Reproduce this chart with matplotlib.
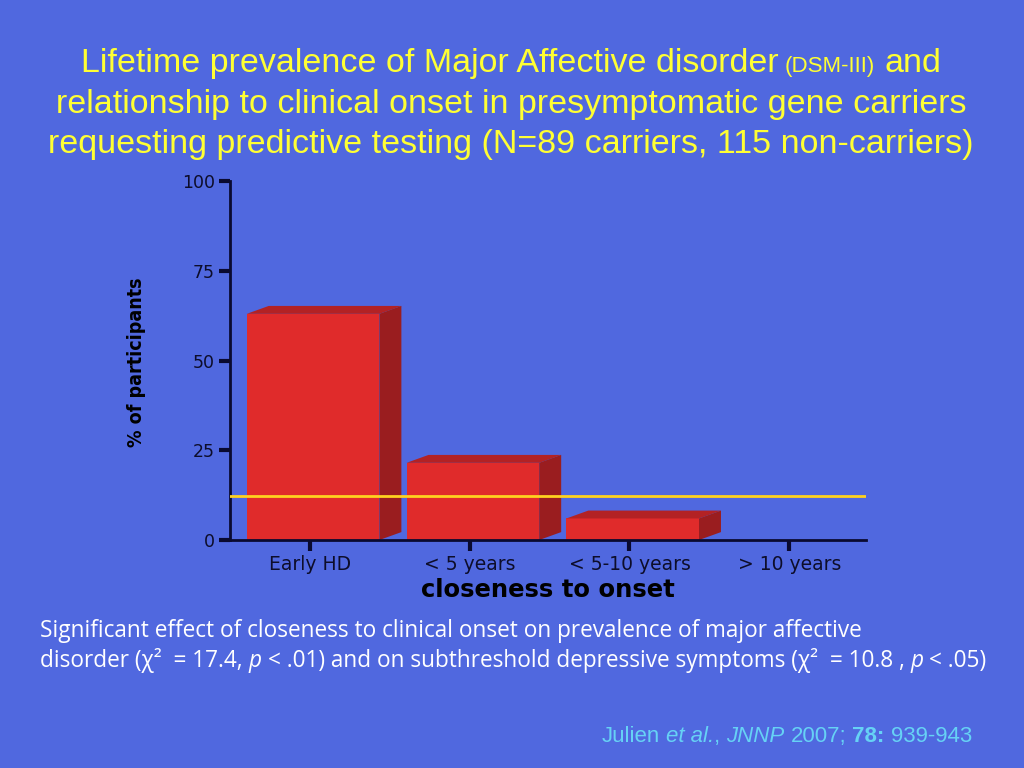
import matplotlib
matplotlib.use("Agg")
import matplotlib.pyplot as plt
from matplotlib.patches import Polygon
from matplotlib import font_manager as fm

# ---------------- data ----------------
categories = ["Early HD", "< 5 years", "< 5-10 years", "> 10 years"]
prevalence = [63, 21.5, 6, 0]
reference_level = 12.3
y_ticks = [0, 25, 50, 75, 100]

title_lines = [
    [("Lifetime prevalence of Major Affective disorder", "big"), ("(DSM-III)", "small"), ("and", "big")],
    [("relationship to clinical onset in presymptomatic gene carriers", "big")],
    [("requesting predictive testing (N=89 carriers, 115 non-carriers)", "big")],
]
note_line1 = "Significant effect of closeness to clinical onset on prevalence of major affective"
note_line2 = [("disorder (χ²  = 17.4,", "n"), ("p", "i"), ("< .01) and on subthreshold depressive symptoms (χ²  = 10.8 ,", "n"),
              ("p", "i"), ("< .05)", "n")]
citation = [("Julien", "n"), ("et al.", "i"), (",", "n0"), ("JNNP", "i"), ("2007;", "n"), ("78:", "b"), ("939-943", "n")]

# ---------------- style ----------------
BG = "#5068DF"
FRONT = "#E02B2B"
SIDE = "#9A1D1F"
TOP = "#B32224"
YELLOW = "#FFD21F"
TITLE_C = "#FFFF33"
CIT_C = "#66D2F5"
INK = "#0d0d2a"

available = {f.name for f in fm.fontManager.ttflist}
SANS = "Liberation Sans" if "Liberation Sans" in available else "DejaVu Sans"
NOTE_F = "Open Sans" if "Open Sans" in available else "DejaVu Sans"
WIDE = "DejaVu Sans"

W, H = 1024, 768
fig = plt.figure(figsize=(W / 100, H / 100), dpi=100, facecolor=BG)
ax = fig.add_axes([230 / W, 1 - 540 / H, (866 - 230) / W, (540 - 181) / H])
ax.set_facecolor(BG)

xs = list(range(len(categories)))
width = 0.83
off = 0.02
ax.bar([x + off for x in xs], prevalence, width=width, color=FRONT, zorder=2)

dx, dy = 0.1375, 2.2
for x, v in zip(xs, prevalence):
    if v <= 0:
        continue
    x0, x1 = x + off - width / 2, x + off + width / 2
    ax.add_patch(Polygon([(x0, v), (x1, v), (x1 + dx, v + dy), (x0 + dx, v + dy)],
                         closed=True, facecolor=TOP, edgecolor="none", zorder=2))
    ax.add_patch(Polygon([(x1, 0), (x1 + dx, dy), (x1 + dx, v + dy), (x1, v)],
                         closed=True, facecolor=SIDE, edgecolor="none", zorder=2))

ax.axhline(reference_level, color=YELLOW, lw=2, zorder=3)

ax.set_xlim(-0.5, 3.48)
ax.set_ylim(0, 100)
ax.set_yticks(y_ticks)
ax.set_yticklabels([str(t) for t in y_ticks], fontsize=12.5, family=WIDE, color=INK)
ax.set_xticks(xs)
ax.set_xticklabels(categories, fontsize=13.5, family=WIDE, color=INK)
for s in ["top", "right"]:
    ax.spines[s].set_visible(False)
for s in ["left", "bottom"]:
    ax.spines[s].set_color("#0a0a30")
    ax.spines[s].set_linewidth(2)
ax.tick_params(axis="both", length=8, width=3, color="#0a0a30", pad=3)
ax.set_xlabel("closeness to onset", fontsize=17.5, fontweight="bold", family=WIDE, color="black", labelpad=3)

fig.text(137 / W, 1 - 362 / H, "% of participants", rotation=90, ha="center", va="center",
         fontsize=14, fontweight="bold", family="DejaVu Sans", fontstretch="condensed", color="black")

fig.canvas.draw()
renderer = fig.canvas.get_renderer()


def space_width(props):
    a = fig.text(0, 0, "x x", **props)
    b = fig.text(0, 0, "xx", **props)
    w = a.get_window_extent(renderer).width - b.get_window_extent(renderer).width
    a.remove(); b.remove()
    return w


def rich_line(pieces, stylemap, x_px, y_px, ha):
    texts, gaps = [], []
    for i, (s, key) in enumerate(pieces):
        props = dict(stylemap[key.rstrip("0")])
        t = fig.text(0, 1 - y_px / H, s, va="baseline", ha="left", **props)
        texts.append(t)
        if i > 0:
            gaps.append(0 if key.endswith("0") else space_width(props))
    widths = [t.get_window_extent(renderer).width for t in texts]
    total = sum(widths) + sum(gaps)
    start = {"left": x_px, "center": x_px - total / 2, "right": x_px - total}[ha]
    cur = start
    for i, t in enumerate(texts):
        if i > 0:
            cur += gaps[i - 1]
        t.set_x(cur / W)
        cur += widths[i]


title_styles = {"big": dict(fontsize=24.5, family=SANS, color=TITLE_C),
                "small": dict(fontsize=16, family=SANS, color=TITLE_C)}
for line, yb in zip(title_lines, [72, 113, 153]):
    rich_line(line, title_styles, 511, yb, "center")

note_styles = {"n": dict(fontsize=16.3, family=NOTE_F, color="white"),
               "i": dict(fontsize=16.3, family=NOTE_F, color="white", style="italic")}
fig.text(40 / W, 1 - 637 / H, note_line1, va="baseline", ha="left", **note_styles["n"])
rich_line(note_line2, note_styles, 40, 667, "left")

cit_styles = {"n": dict(fontsize=16, family=SANS, color=CIT_C),
              "i": dict(fontsize=16, family=SANS, color=CIT_C, style="italic"),
              "b": dict(fontsize=16, family=SANS, color=CIT_C, fontweight="bold")}
rich_line(citation, cit_styles, 972, 742, "right")

fig.savefig("out.png", dpi=100, facecolor=BG)
